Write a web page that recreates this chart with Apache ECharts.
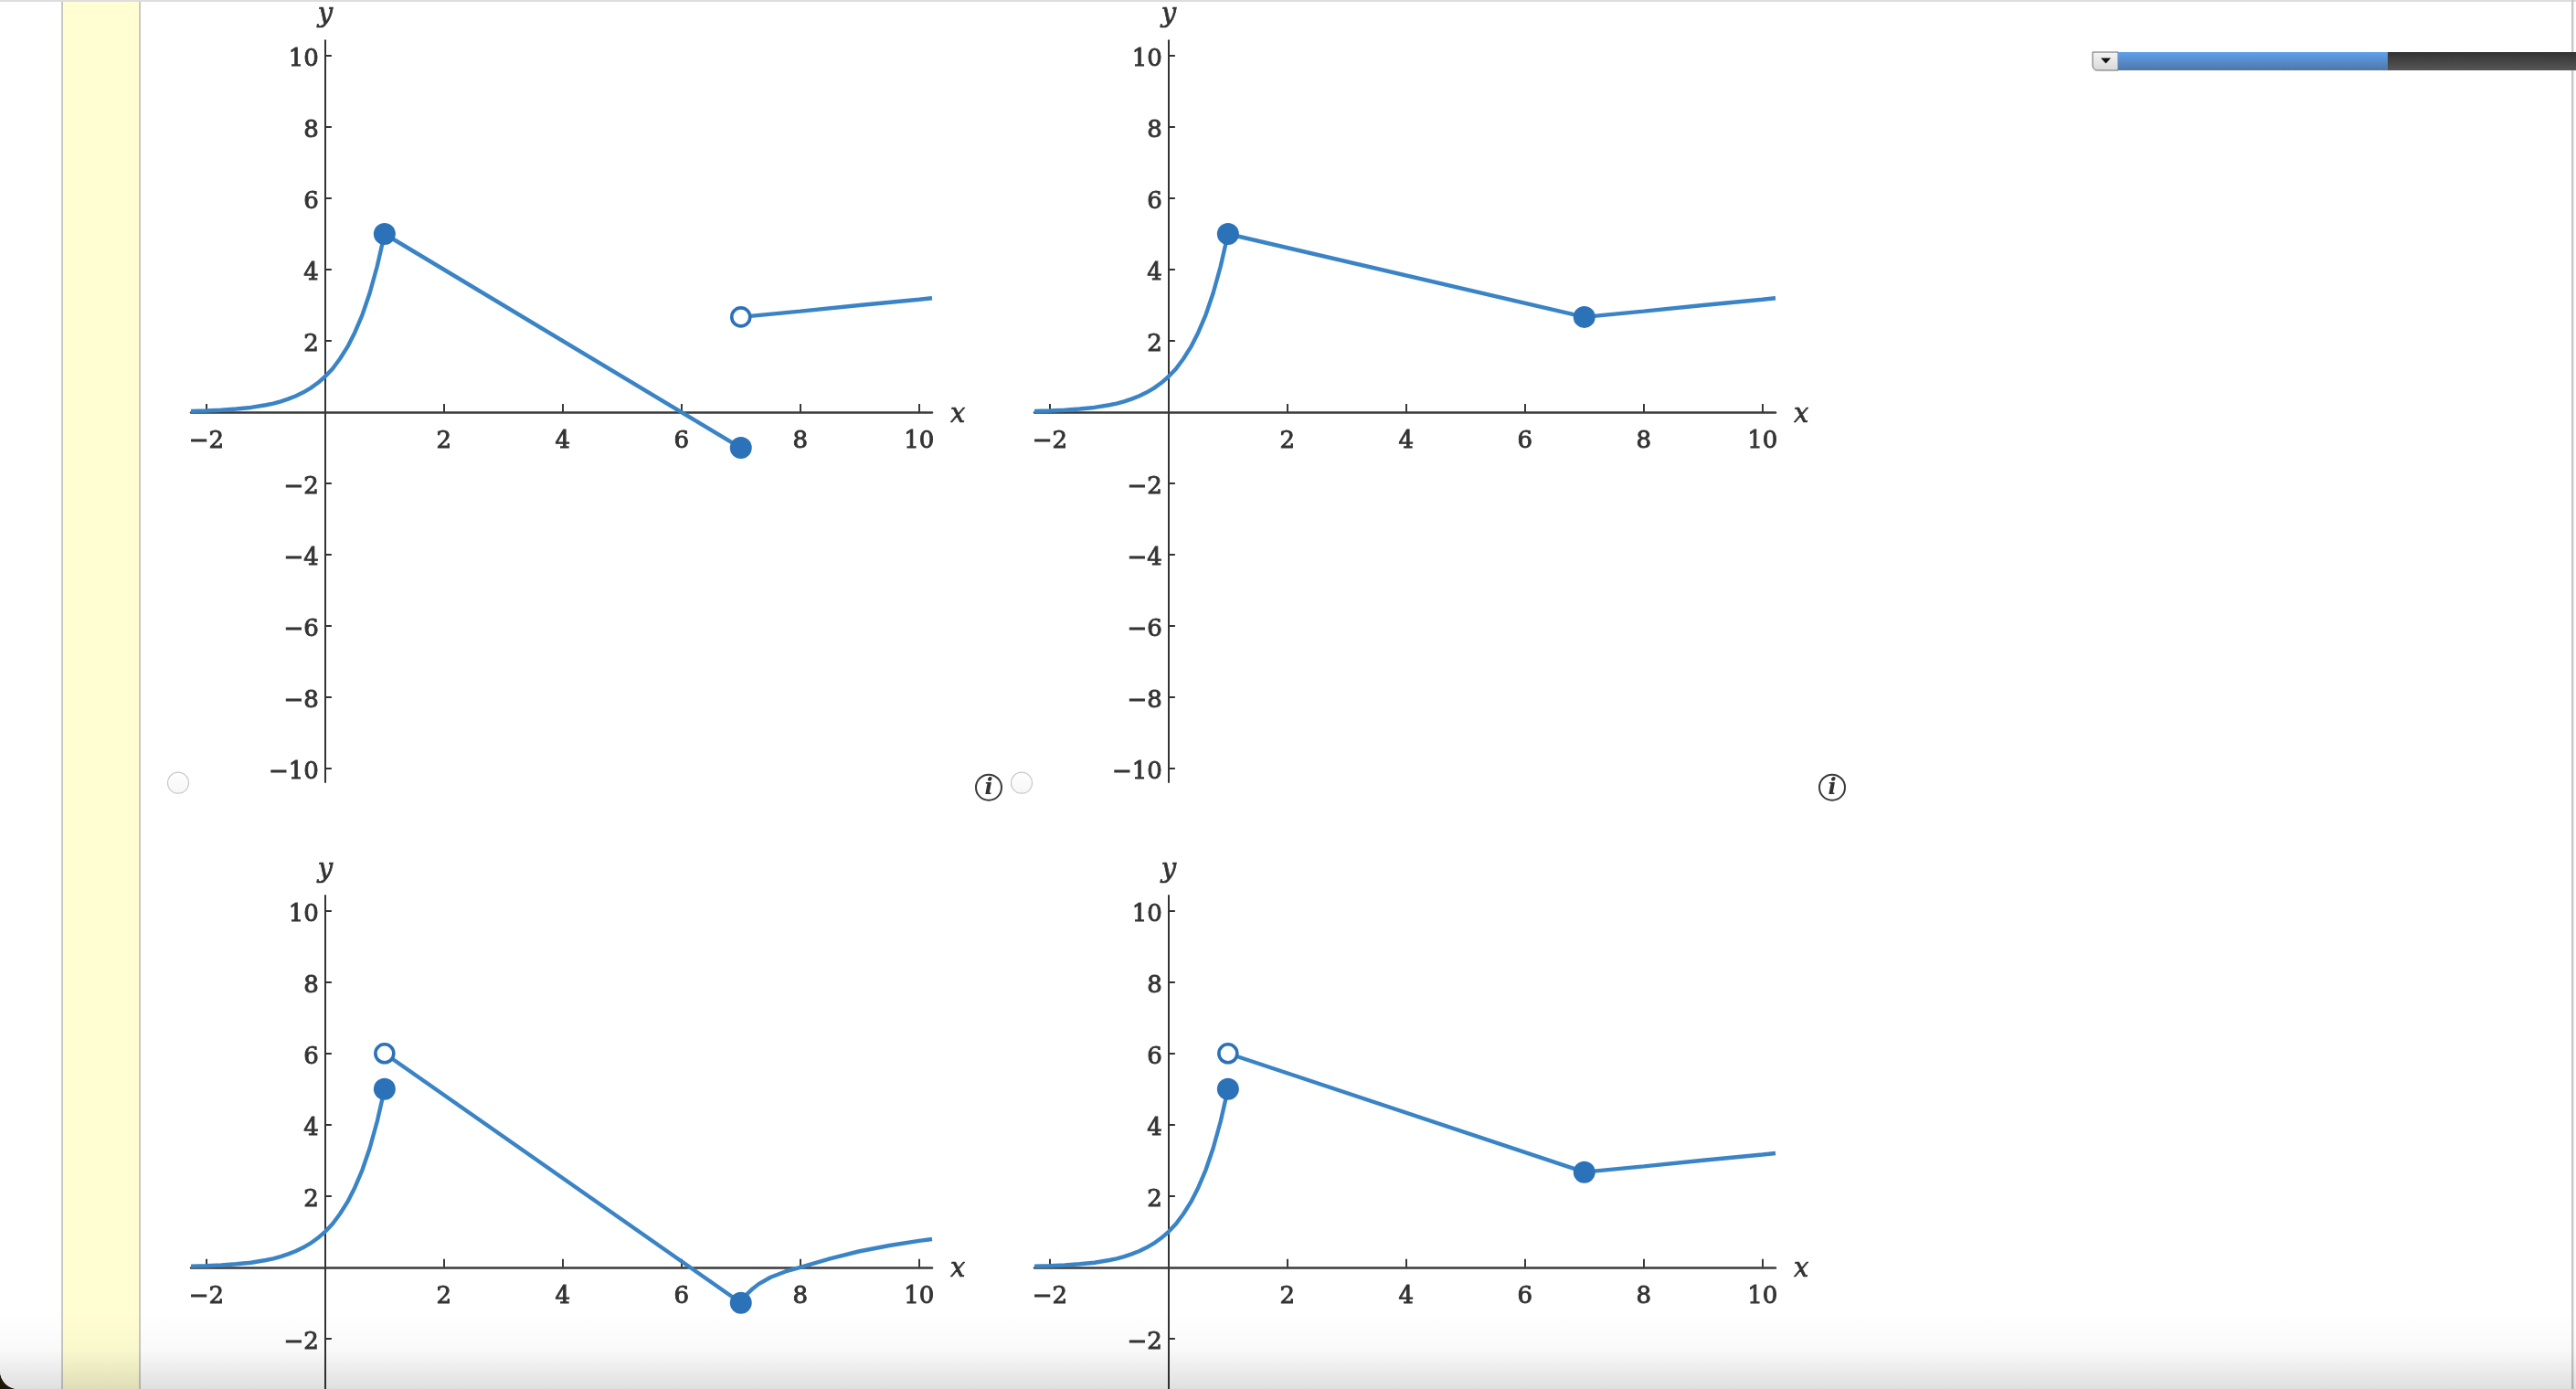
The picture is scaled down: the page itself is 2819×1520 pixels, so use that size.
<!DOCTYPE html>
<html>
<head>
<meta charset="utf-8">
<style>
html,body{margin:0;padding:0;width:2819px;height:1520px;background:#1c1706;overflow:hidden}
#frame{width:2819px;height:1520px;overflow:hidden;background:#fff;border-bottom-left-radius:20px}
#c{width:2819px;height:1520px}
</style>
<script src="https://cdn.jsdelivr.net/npm/echarts@6/dist/echarts.min.js"></script>
</head>
<body>
<div id="frame"><div id="c"></div></div>
<script>
// ---- values ----
const xTicks = [-2, 2, 4, 6, 8, 10];
const yTicksFull = [-10, -8, -6, -4, -2, 2, 4, 6, 8, 10];
const yTicksCropped = [-2, 2, 4, 6, 8, 10];

const growthCurve = [[-2.26,0.03],[-2,0.04],[-1.75,0.06],[-1.5,0.09],[-1.25,0.13],[-1,0.2],[-0.875,0.24],[-0.75,0.3],[-0.625,0.37],[-0.5,0.45],[-0.375,0.55],[-0.25,0.67],[-0.125,0.82],[0,1],[0.125,1.22],[0.25,1.5],[0.375,1.83],[0.5,2.24],[0.625,2.73],[0.75,3.34],[0.875,4.09],[1,5]];
const steepFromPeak = [[1,5],[7,-1]];
const gentleFromPeak = [[1,5],[7,2.67]];
const steepFromOpen = [[1,6],[7,-1]];
const gentleFromOpen = [[1,6],[7,2.67]];
const rootTail = [[7,2.67],[8,2.83],[9,3],[10,3.16],[10.22,3.2]];
const logTail = [[7,-1],[7.1,-0.76],[7.2,-0.6],[7.3,-0.47],[7.5,-0.28],[7.75,-0.12],[8,0],[8.5,0.24],[9,0.45],[9.5,0.61],[10,0.74],[10.22,0.79]];

const panelA = { lines:[growthCurve, steepFromPeak, rootTail],  filled:[[1,5],[7,-1]],   open:[[7,2.67]] };
const panelB = { lines:[growthCurve, gentleFromPeak, rootTail], filled:[[1,5],[7,2.67]], open:[] };
const panelC = { lines:[growthCurve, steepFromOpen, logTail],   filled:[[1,5],[7,-1]],   open:[[1,6]] };
const panelD = { lines:[growthCurve, gentleFromOpen, rootTail], filled:[[1,5],[7,2.67]], open:[[1,6]] };

// ---- styling / layout ----
const LINE = '#3a84c5', DOT = '#2c72b8', INK = '#333333';
const FONT = '"DejaVu Serif"';
const X_MIN = -2.26, X_MAX = 10.22, Y_MAX = 10.43, GRID_W = 811;
const panels = [
  {d:panelA, left:209,  top:44.2, height:811.7, yMin:-10.38, yTicks:yTicksFull},
  {d:panelB, left:1132, top:44.2, height:811.7, yMin:-10.38, yTicks:yTicksFull},
  {d:panelC, left:209,  top:980,  height:540,   yMin:-3.415, yTicks:yTicksCropped},
  {d:panelD, left:1132, top:980,  height:540,   yMin:-3.415, yTicks:yTicksCropped}
];
const fmt = v => String(v).replace('-', '\u2212');

const grid = [], xAxis = [], yAxis = [], series = [];
panels.forEach((p, i) => {
  grid.push({left:p.left, top:p.top, width:GRID_W, height:p.height, containLabel:false, outerBoundsMode:'none'});
  xAxis.push({
    type:'value', gridIndex:i, min:X_MIN, max:X_MAX, splitLine:{show:false},
    position:'bottom', offset:-(p.height * (0 - p.yMin) / (Y_MAX - p.yMin)),
    name:'x', nameLocation:'end', nameGap:20,
    nameTextStyle:{fontFamily:FONT, fontStyle:'italic', fontSize:29, color:INK, verticalAlign:'top', lineHeight:6, textBorderColor:INK, textBorderWidth:0.7},
    axisLine:{show:true, onZero:false, lineStyle:{color:'#3a3a3a', width:2.5}},
    axisTick:{show:true, inside:true, length:9, customValues:xTicks, lineStyle:{color:'#3a3a3a', width:2}},
    axisLabel:{customValues:xTicks, formatter:fmt, margin:19, fontFamily:FONT, fontSize:26, color:INK, textBorderColor:INK, textBorderWidth:0.9}
  });
  yAxis.push({
    type:'value', gridIndex:i, min:p.yMin, max:Y_MAX, splitLine:{show:false},
    position:'left', offset:-(GRID_W * (0 - X_MIN) / (X_MAX - X_MIN)),
    name:'y', nameLocation:'end', nameGap:13,
    nameTextStyle:{fontFamily:FONT, fontStyle:'italic', fontSize:29, color:INK, textBorderColor:INK, textBorderWidth:0.7},
    axisLine:{show:true, onZero:false, lineStyle:{color:'#333', width:2}},
    axisTick:{show:true, inside:true, length:7, customValues:p.yTicks, lineStyle:{color:'#333', width:2}},
    axisLabel:{customValues:p.yTicks, formatter:fmt, margin:7, verticalAlign:'top', lineHeight:8, fontFamily:FONT, fontSize:26, color:INK, textBorderColor:INK, textBorderWidth:0.9}
  });
  p.d.lines.forEach(pts => series.push({
    type:'line', xAxisIndex:i, yAxisIndex:i, data:pts, showSymbol:false, smooth:false, clip:false,
    lineStyle:{color:LINE, width:4.4}, z:3, silent:true, animation:false
  }));
  series.push({
    type:'scatter', xAxisIndex:i, yAxisIndex:i, data:p.d.filled, symbolSize:24,
    itemStyle:{color:DOT, opacity:1}, z:5, silent:true, animation:false
  });
  series.push({
    type:'scatter', xAxisIndex:i, yAxisIndex:i, data:p.d.open, symbolSize:20,
    itemStyle:{color:'#fff', borderColor:DOT, borderWidth:3.6, opacity:1}, z:5, silent:true, animation:false
  });
});

// ---- page furniture around the charts ----
const vgrad = (a, b) => new echarts.graphic.LinearGradient(0,0,0,1,[{offset:0,color:a},{offset:1,color:b}]);
const radio = cx => ({type:'circle', shape:{cx, cy:856.7, r:11.5}, z:1,
  style:{fill:vgrad('#ffffff','#f6f6f6'), stroke:'#c6c6c6', lineWidth:1.2}});
const info = cx => [
  {type:'circle', shape:{cx, cy:861.7, r:14}, z:1, style:{fill:'#fff', stroke:'#3a3a3a', lineWidth:2}},
  {type:'text', x:cx, y:862.5, z:2, style:{text:'i', fill:'#333', font:'italic bold 24px "DejaVu Serif"', align:'center', verticalAlign:'middle'}}
];
const graphic = [
  {type:'rect', shape:{x:68, y:0, width:85, height:1520}, z:-1, style:{fill:'#fffdd1'}},
  {type:'rect', shape:{x:67, y:0, width:2, height:1520}, z:-1, style:{fill:'#c9c9c4'}},
  {type:'rect', shape:{x:152, y:0, width:2, height:1520}, z:-1, style:{fill:'#c9c9c4'}},
  {type:'rect', shape:{x:0, y:0, width:2819, height:2}, z:-1, style:{fill:'#dddddd'}},
  {type:'rect', shape:{x:2814, y:0, width:2.4, height:1520}, z:-1, style:{fill:'#c8c8c8'}},
  radio(195), radio(1118), ...info(1082), ...info(2005),
  {type:'rect', shape:{x:2290, y:57, width:28, height:20, r:[0,0,0,5]}, z:1,
    style:{fill:vgrad('#f4f4f4','#d8d8d8'), stroke:'#6a6a6a', lineWidth:1}},
  {type:'polygon', shape:{points:[[2299,63.5],[2310,63.5],[2304.5,69.5]]}, z:2, style:{fill:'#111'}},
  {type:'rect', shape:{x:2318, y:57, width:295, height:20}, z:1, style:{fill:vgrad('#5fa0ec','#4f76a8')}},
  {type:'rect', shape:{x:2613, y:57, width:206, height:20}, z:1, style:{fill:vgrad('#333333','#565656')}},
  {type:'rect', shape:{x:0, y:1435, width:2819, height:85}, z:50, silent:true,
    style:{fill:new echarts.graphic.LinearGradient(0,0,0,1,[
      {offset:0,color:'rgba(0,0,0,0)'},{offset:0.5,color:'rgba(0,0,0,0.025)'},{offset:1,color:'rgba(0,0,0,0.125)'}])}}
];

const chart = echarts.init(document.getElementById('c'), null, {renderer:'canvas', width:2819, height:1520});
chart.setOption({animation:false, backgroundColor:'#ffffff', grid, xAxis, yAxis, series, graphic});
</script>
</body>
</html>
